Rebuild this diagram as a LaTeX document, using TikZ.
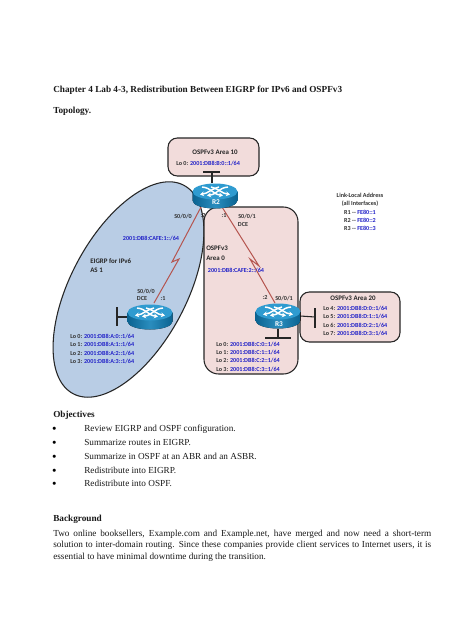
\documentclass[tikz,border=0pt]{standalone}
\usepackage{fontspec}
\setmainfont{Liberation Serif}
\newfontfamily\diag{Carlito}
\usetikzlibrary{calc,arrows.meta}
\definecolor{areapink}{HTML}{F2DCDB}
\definecolor{eigrpblue}{HTML}{B9CDE5}
\definecolor{addrblue}{HTML}{2222C8}
\definecolor{linkred}{HTML}{B5554F}
\definecolor{bodytop}{HTML}{2F9BD0}
\definecolor{bodydark}{HTML}{0B6391}
\definecolor{bodylight}{HTML}{2A8DBE}
\tikzset{
  x=0.75pt,y=-0.75pt,
  area/.style={draw=black!85,line width=0.8pt,fill=areapink,rounded corners=7pt},
  lan/.style={draw=black!85,line width=0.8pt},
  serial/.style={draw=linkred,line width=0.75pt,line join=miter},
  lbl/.style={font=\diag\bfseries\fontsize{4.6}{5}\selectfont,inner sep=0pt,text=black!80},
  addr/.style={font=\diag\bfseries\fontsize{4.6}{5}\selectfont,inner sep=0pt,text=addrblue},
  ttl/.style={font=\diag\bfseries\fontsize{5.2}{6}\selectfont,inner sep=0pt,text=black!85},
  page/.style={font=\fontsize{6.92}{8}\selectfont,inner sep=0pt,anchor=base west,text=black!90},
  pagebf/.style={font=\bfseries\fontsize{6.92}{8}\selectfont,inner sep=0pt,anchor=base west,text=black!90},
  bulletmark/.style={font=\bfseries\fontsize{8.5}{10}\selectfont,inner sep=0pt,anchor=base west,text=black},
  rtr/.style={inner sep=0pt,minimum width=33pt,minimum height=19pt},
  rlabel/.style={font=\diag\bfseries\fontsize{5.5}{6}\selectfont,text=white,inner sep=0pt},
  pics/routerpic/.style={code={
    \fill[left color=bodydark,right color=bodydark,middle color=bodylight]
      (-22.5,-4.5) -- (-22.5,4.5) arc[x radius=22.5,y radius=8,start angle=180,end angle=0] -- (22.5,-4.5) -- cycle;
    \fill[bodytop] (0,-4.5) ellipse[x radius=22.5,y radius=8];
    \draw[white,line width=1.1pt,-{Stealth[length=3pt,width=3.5pt]}] (-13,-9) .. controls (-3,-8) and (-3,-2) .. (8,-0.5);
    \draw[white,line width=1.1pt,-{Stealth[length=3pt,width=3.5pt]}] (13,-9) .. controls (3,-8) and (3,-2) .. (-8,-0.5);
    \draw[white,line width=1.1pt,{Stealth[length=3pt,width=3.5pt]}-] (-15,-1.5) .. controls (-6,-3) and (-6,-6) .. (4,-9);
    \draw[white,line width=1.1pt,{Stealth[length=3pt,width=3.5pt]}-] (15,-1.5) .. controls (6,-3) and (6,-6) .. (-4,-9);
  }}
}
\begin{document}
\begin{tikzpicture}
\useasboundingbox (0,0) rectangle (474,632);
\fill[white] (0,0) rectangle (474,632);

% page heading
\node[pagebf] (title) at (53,92) {Chapter 4 Lab 4-3, Redistribution Between EIGRP for IPv6 and OSPFv3};
\node[pagebf] (topo) at (53,113) {Topology.};

% areas
\draw[fill=eigrpblue,draw=black!85,line width=0.8pt] (128.5,289.5) ellipse[x radius=118,y radius=58,rotate=62];
\draw[area] (168,138) rectangle (259,176);
\draw[area,rounded corners=11pt] (204,207) rectangle (298,374);
\draw[area] (300,292) rectangle (400,342);

% routers
\node[rtr] (R2) at (215,196) {};
\node[rtr] (R1) at (150,317) {};
\node[rtr] (R3) at (278,316) {};

% named points for connectors
\coordinate (lan2) at (212,172);
\coordinate (lan1) at (117,317);
\coordinate (lan3a) at (315,317);
\coordinate (lan3b) at (278,338);
\coordinate (s1a) at (201,207);
\coordinate (s1b) at (172,262);
\coordinate (s1c) at (179,259);
\coordinate (s1d) at (154,303);
\coordinate (s2a) at (222,207);
\coordinate (s2b) at (259,266);
\coordinate (s2c) at (250,259);
\coordinate (s2d) at (275,303);

\draw[lan] (lan2) -- (lan2|-R2.north);
\draw[lan] (203,172) -- (220,172);
\draw[lan] (lan1) -- (R1.west);
\draw[lan] (117,307) -- (117,326);
\draw[lan] (R3.east) -- (lan3a);
\draw[lan] (315,308) -- (315,328);
\draw[lan] (R3.south) -- (lan3b);
\draw[lan] (265,338) -- (291,338);

\draw[serial] (s1a) -- (s1b) -- (s1c) -- (s1d);
\draw[serial] (s2a) -- (s2b) -- (s2c) -- (s2d);

\pic at (R2) {routerpic};
\pic at (R1) {routerpic};
\pic at (R3) {routerpic};
\node[rlabel] (nR2) at (216,202) {R2};
\node[rlabel] (nR3) at (279,324) {R3};

% area 10
\node[ttl] (t10) at (215,152) {OSPFv3 Area 10};
\node[lbl,anchor=west] (lo10) at (176,163.5) {Lo 0: \textcolor{addrblue}{2001:DB8:B:0::1/64}};

% link-local
\node[lbl] (ll1) at (360,195) {Link-Local Address};
\node[lbl] (ll2) at (360,203.5) {(all Interfaces)};
\node[lbl] (ll3) at (360,212) {R1 -- \textcolor{addrblue}{FE80::1}};
\node[lbl] (ll4) at (360,220) {R2 -- \textcolor{addrblue}{FE80::2}};
\node[lbl] (ll5) at (360,228) {R3 -- \textcolor{addrblue}{FE80::3}};

% interface labels
\node[lbl] (a1) at (183,216) {S0/0/0};
\node[lbl] (a2) at (203,216) {:2};
\node[lbl] (a3) at (224,216) {:1};
\node[lbl] (a4) at (247,216) {S0/0/1};
\node[lbl] (a5) at (243,224.5) {DCE};
\node[addr] (net1) at (151,238) {2001:DB8:CAFE:1::/64};
\node[addr] (net2) at (236,270) {2001:DB8:CAFE:2::/64};
\node[ttl,anchor=west] (e1) at (90,261) {EIGRP for IPv6};
\node[ttl,anchor=west] (e2) at (90,270) {AS 1};
\node[ttl,anchor=west] (o1) at (206,248) {OSPFv3};
\node[ttl,anchor=west] (o2) at (206,258) {Area 0};
\node[lbl] (b1) at (146,291) {S0/0/0};
\node[lbl] (b2) at (142,299) {DCE};
\node[lbl] (b3) at (163,299) {:1};
\node[lbl] (c1) at (265,298) {:2};
\node[lbl] (c2) at (284,298) {S0/0/1};

% R1 loopbacks
\node[lbl,anchor=west] (r1a) at (70,336) {Lo 0: \textcolor{addrblue}{2001:DB8:A:0::1/64}};
\node[lbl,anchor=west] (r1b) at (70,344.5) {Lo 1: \textcolor{addrblue}{2001:DB8:A:1::1/64}};
\node[lbl,anchor=west] (r1c) at (70,353) {Lo 2: \textcolor{addrblue}{2001:DB8:A:2::1/64}};
\node[lbl,anchor=west] (r1d) at (70,361) {Lo 3: \textcolor{addrblue}{2001:DB8:A:3::1/64}};

% R3 loopbacks
\node[lbl,anchor=west] (r3a) at (216,344) {Lo 0: \textcolor{addrblue}{2001:DB8:C:0::1/64}};
\node[lbl,anchor=west] (r3b) at (216,352) {Lo 1: \textcolor{addrblue}{2001:DB8:C:1::1/64}};
\node[lbl,anchor=west] (r3c) at (216,360.5) {Lo 2: \textcolor{addrblue}{2001:DB8:C:2::1/64}};
\node[lbl,anchor=west] (r3d) at (216,369) {Lo 3: \textcolor{addrblue}{2001:DB8:C:3::1/64}};

% area 20
\node[ttl] (t20) at (353,298) {OSPFv3 Area 20};
\node[lbl,anchor=west] (r4a) at (323,308) {Lo 4: \textcolor{addrblue}{2001:DB8:D:0::1/64}};
\node[lbl,anchor=west] (r4b) at (323,316.5) {Lo 5: \textcolor{addrblue}{2001:DB8:D:1::1/64}};
\node[lbl,anchor=west] (r4c) at (323,325) {Lo 6: \textcolor{addrblue}{2001:DB8:D:2::1/64}};
\node[lbl,anchor=west] (r4d) at (323,333.5) {Lo 7: \textcolor{addrblue}{2001:DB8:D:3::1/64}};

% objectives
\node[pagebf] (obj) at (53,417) {Objectives};
\foreach \yy/\tt [count=\i] in {431/Review EIGRP and OSPF configuration.,445/Summarize routes in EIGRP.,459/Summarize in OSPF at an ABR and an ASBR.,473/Redistribute into EIGRP.,486/Redistribute into OSPF.}{
  \node[bulletmark] (bul\i) at (52,\yy+1) {•};
  \node[page] (item\i) at (84,\yy) {\tt};
}

% background
\node[pagebf] (bg) at (53,521) {Background};
\node[page] (para1) at (53,536) {\makebox[283.5pt][s]{Two online booksellers, Example.com and Example.net, have merged and now need a short-term}};
\node[page] (para2) at (53,547.5) {\makebox[283.5pt][s]{solution to inter-domain routing. Since these companies provide client services to Internet users, it is}};
\node[page] (para3) at (53,559) {essential to have minimal downtime during the transition.};
\end{tikzpicture}
\end{document}
